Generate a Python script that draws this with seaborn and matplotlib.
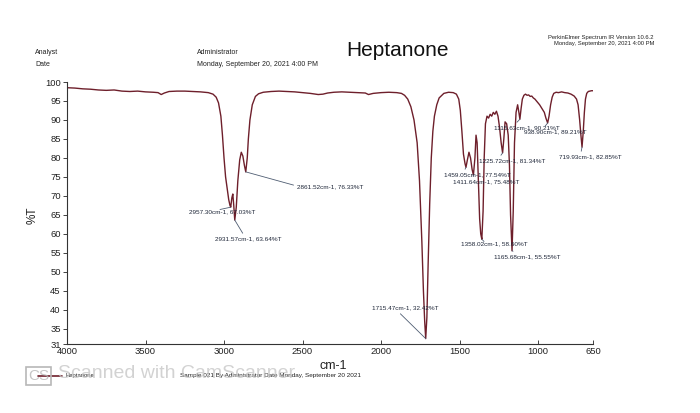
import numpy as np
import pandas as pd
import matplotlib
matplotlib.use("Agg")
import matplotlib.pyplot as plt
import seaborn as sns

# ---------------- data ----------------
wavenumber = [4000, 3950, 3900, 3850, 3800, 3750, 3700, 3650, 3600, 3550, 3500, 3450,
              3420, 3400, 3380, 3350, 3300, 3250, 3200, 3150, 3100, 3070, 3050, 3035,
              3020, 3010, 3000, 2990, 2980, 2970, 2962, 2957.3, 2950, 2944, 2938, 2931.57,
              2922, 2912, 2900, 2890, 2880, 2870, 2861.52, 2852, 2845, 2835, 2820, 2800,
              2780, 2750, 2700, 2650, 2600, 2550, 2500, 2450, 2400, 2370, 2340, 2300,
              2250, 2200, 2150, 2100, 2080, 2050, 2000, 1950, 1900, 1870, 1850, 1830,
              1810, 1790, 1770, 1755, 1740, 1730, 1722, 1715.47, 1708, 1700, 1690, 1680,
              1670, 1660, 1645, 1630, 1600, 1570, 1540, 1520, 1505, 1495, 1485, 1475,
              1465, 1459.05, 1450, 1440, 1430, 1420, 1411.64, 1402, 1395, 1388, 1380,
              1372, 1365, 1358.02, 1350, 1343, 1335, 1325, 1315, 1305, 1295, 1285, 1275,
              1265, 1255, 1245, 1235, 1225.72, 1218, 1210, 1200, 1190, 1182, 1175,
              1165.68, 1158, 1150, 1140, 1130, 1122, 1115.63, 1108, 1100, 1090, 1080,
              1070, 1060, 1050, 1040, 1030, 1020, 1010, 1000, 990, 975, 960, 950, 938.9,
              930, 920, 910, 900, 885, 870, 850, 830, 810, 790, 770, 755, 745, 735, 727,
              719.93, 712, 705, 698, 690, 680, 670, 660, 650]
transmittance = [98.5, 98.4, 98.2, 98.1, 97.9, 97.8, 97.9, 97.6, 97.5, 97.6, 97.4, 97.3,
                 97.2, 96.7, 97.1, 97.5, 97.6, 97.6, 97.5, 97.4, 97.2, 96.8, 96.0, 94.5,
                 91.0, 86.0, 80.0, 75.0, 72.0, 69.0, 67.5, 67.03, 69.5, 70.5, 67.5, 63.64,
                 67.0, 74.0, 79.5, 81.5, 80.5, 78.0, 76.33, 80.0, 85.0, 90.0, 94.0, 96.2,
                 96.9, 97.3, 97.5, 97.6, 97.5, 97.4, 97.2, 97.0, 96.7, 96.8, 97.1, 97.3,
                 97.4, 97.3, 97.2, 97.1, 96.7, 97.0, 97.2, 97.3, 97.2, 97.0, 96.5, 95.5,
                 93.5, 90.0, 84.0, 74.0, 58.0, 45.0, 37.0, 32.42, 38.0, 52.0, 68.0, 80.0,
                 87.0, 91.0, 94.0, 95.8, 97.0, 97.3, 97.2, 96.8, 95.5, 92.5, 87.0, 81.0,
                 78.5, 77.54, 79.5, 81.5, 80.0, 77.0, 75.48, 80.0, 86.0, 84.0, 74.0,
                 64.0, 60.0, 58.60, 66.0, 80.0, 89.0, 91.0, 90.5, 91.5, 91.0, 92.0, 91.5,
                 92.3, 91.0, 88.0, 84.0, 81.34, 85.0, 89.5, 89.0, 86.0, 78.0, 65.0,
                 55.55, 66.0, 84.0, 92.0, 94.0, 92.0, 90.21, 93.0, 95.5, 96.5, 96.8,
                 96.5, 96.6, 96.2, 96.3, 95.8, 95.5, 95.0, 94.5, 94.0, 93.0, 92.0, 90.5, 89.21,
                 91.0, 94.0, 96.0, 97.0, 97.3, 97.2, 97.4, 97.2, 97.1, 96.8, 96.3, 95.5, 94.0, 90.0, 86.0,
                 82.85, 87.0, 92.0, 95.5, 97.0, 97.5, 97.6, 97.7, 97.7]

peak_wn = [2957.30, 2931.57, 2861.52, 1715.47, 1459.05, 1411.64, 1358.02,
           1225.72, 1165.68, 1115.63, 938.90, 719.93]
peak_t = [67.03, 63.64, 76.33, 32.42, 77.54, 75.48, 58.60,
          81.34, 55.55, 90.21, 89.21, 82.85]

x_ticks = [4000, 3500, 3000, 2500, 2000, 1500, 1000, 650]
y_ticks = [31, 35, 40, 45, 50, 55, 60, 65, 70, 75, 80, 85, 90, 95, 100]

# ---------------- layout (pixel positions of labels in the 700x413 figure) ----------------
W, H = 700, 413
label_pos = [(222, 212), (248, 239), (330, 187), (405, 308), (477, 175), (486, 182),
             (494, 244), (512, 161), (527, 257), (527, 128), (555, 132), (590, 157)]
label_rel = [(0.47, 1.0), (0.45, 1.0), (0.0, 0.7), (0.38, 0.0), (0.3, 1.0), (0.3, 1.0),
             (0.35, 1.0), (0.3, 1.0), (0.4, 1.0), (0.3, 1.0), (0.3, 1.0), (0.35, 1.0)]

sns.set_style("ticks")
plt.rcParams["font.family"] = ["Liberation Sans", "DejaVu Sans"]

LINE = "#6e1f2b"
TXT = "#1e2638"
LEAD = "#4f5d72"

fig = plt.figure(figsize=(W / 100, H / 100), dpi=100)
fig.patch.set_facecolor("white")
ax = fig.add_axes([67 / W, 1 - 344 / H, (593 - 67) / W, (344 - 82) / H])

df = pd.DataFrame({"cm-1": wavenumber, "%T": transmittance})
sns.lineplot(data=df, x="cm-1", y="%T", ax=ax, color=LINE, lw=1.0,
             sort=False, estimator=None)

ax.set_xlim(4000, 650)
ax.set_ylim(31, 100)
ax.set_xticks(x_ticks)
ax.set_xticklabels([str(v) for v in x_ticks])
ax.set_yticks(y_ticks)
ax.set_yticklabels([str(v) for v in y_ticks])
ax.tick_params(axis="x", direction="in", length=3, width=0.6, labelsize=6.8, pad=2, colors="#222222")
ax.tick_params(axis="y", direction="out", length=3, width=0.6, labelsize=6.8, pad=1.5, colors="#222222")
for s in ["top", "right"]:
    ax.spines[s].set_visible(False)
for s in ["left", "bottom"]:
    ax.spines[s].set_linewidth(0.8)
    ax.spines[s].set_color("#333333")
ax.set_xlabel("")
ax.set_ylabel("")
ax.set_facecolor("none")

# peak annotations
for w, t, (px, py), rel in zip(peak_wn, peak_t, label_pos, label_rel):
    ax.annotate(f"{w:.2f}cm-1, {t:.2f}%T", xy=(w, t),
                xytext=(px / W, 1 - py / H), textcoords="figure fraction",
                ha="center", va="center", fontsize=4.6, color=TXT,
                annotation_clip=False,
                arrowprops=dict(arrowstyle="-", color=LEAD, lw=0.6,
                                relpos=rel, shrinkA=0, shrinkB=0))

# axis titles
fig.text(33 / W, 1 - 215 / H, "%T", rotation=90, ha="center", va="center",
         fontsize=8.5, color="#222222")
fig.text(333 / W, 1 - 366 / H, "cm-1", ha="center", va="center", fontsize=9,
         color="#222222")

# header
fig.text(35 / W, 1 - 52 / H, "Analyst", fontsize=5, color="#222222", va="center")
fig.text(35 / W, 1 - 64 / H, "Date", fontsize=5, color="#222222", va="center")
fig.text(197 / W, 1 - 53 / H, "Administrator", fontsize=5, color="#222222", va="center")
fig.text(197 / W, 1 - 65 / H, "Monday, September 20, 2021 4:00 PM", fontsize=5,
         color="#222222", va="center")
fig.text(397 / W, 1 - 51 / H, "Heptanone", fontsize=15, color="#111111",
         ha="center", va="center")
fig.text(654 / W, 1 - 37 / H, "PerkinElmer Spectrum IR Version 10.6.2", fontsize=4.2,
         color="#222222", ha="right", va="center")
fig.text(654 / W, 1 - 44 / H, "Monday, September 20, 2021 4:00 PM", fontsize=4.2,
         color="#222222", ha="right", va="center")

# footer legend
fig.add_artist(plt.Line2D([38 / W, 62 / W], [1 - 376 / H, 1 - 376 / H], color=LINE, lw=1.2))
fig.text(66 / W, 1 - 376 / H, "Heptanone", fontsize=4.2, color="#222222", va="center")
fig.text(180 / W, 1 - 376 / H, "Sample 021 By Administrator Date Monday, September 20 2021",
         fontsize=4.6, color="#222222", va="center")

# scanner watermark
fig.text(28 / W, 1 - 376 / H, "CS", fontsize=11, color="#b8b8b8", va="center", alpha=0.8,
         bbox=dict(boxstyle="square,pad=0.15", fc="none", ec="#b8b8b8", lw=1.2))
fig.text(58 / W, 1 - 374 / H, "Scanned with CamScanner", fontsize=14, color="#c4c4c4",
         va="center", alpha=0.75)

fig.savefig("out.png", dpi=100, facecolor="white")
